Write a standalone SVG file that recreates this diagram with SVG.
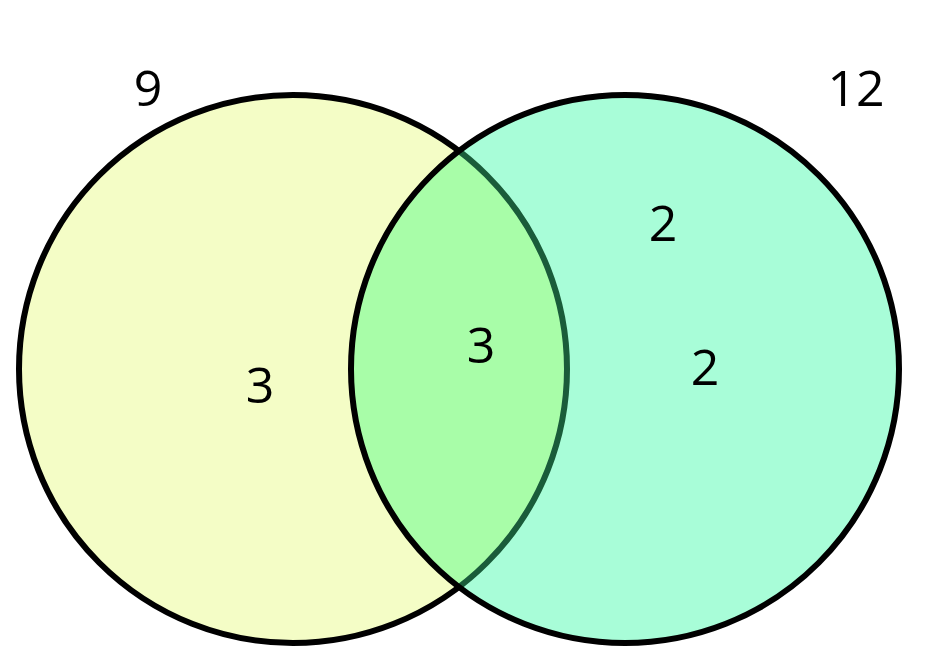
<svg xmlns="http://www.w3.org/2000/svg" width="947" height="662" viewBox="0 0 947 662">
<style>
text{font-family:"Comic Sans MS","Open Sans","Liberation Sans",sans-serif;font-size:50px;fill:#000;text-anchor:middle}
</style>
<defs>
<clipPath id="cr"><circle cx="625" cy="369" r="274"/></clipPath>
<clipPath id="cl"><circle cx="293" cy="369" r="274"/></clipPath>
</defs>
<rect width="947" height="662" fill="#fff"/>
<g id="left"><circle cx="293" cy="369" r="274" fill="#f4fdc6" stroke="#000" stroke-width="6"/></g>
<g id="right"><circle cx="625" cy="369" r="274" fill="#a8fdd8"/></g>
<g id="overlap">
<circle cx="293" cy="369" r="274" fill="#a8fda8" clip-path="url(#cr)"/>
<circle cx="293" cy="369" r="274" fill="none" stroke="#1a5c3a" stroke-width="6" clip-path="url(#cr)"/>
</g>
<g id="right-outline"><circle cx="625" cy="369" r="274" fill="none" stroke="#000" stroke-width="6"/></g>
<g id="labels">
<text x="148" y="106">9</text>
<text x="856" y="106">12</text>
<text x="260" y="403">3</text>
<text x="481" y="363">3</text>
<text x="663" y="241">2</text>
<text x="705" y="385">2</text>
</g>
</svg>
